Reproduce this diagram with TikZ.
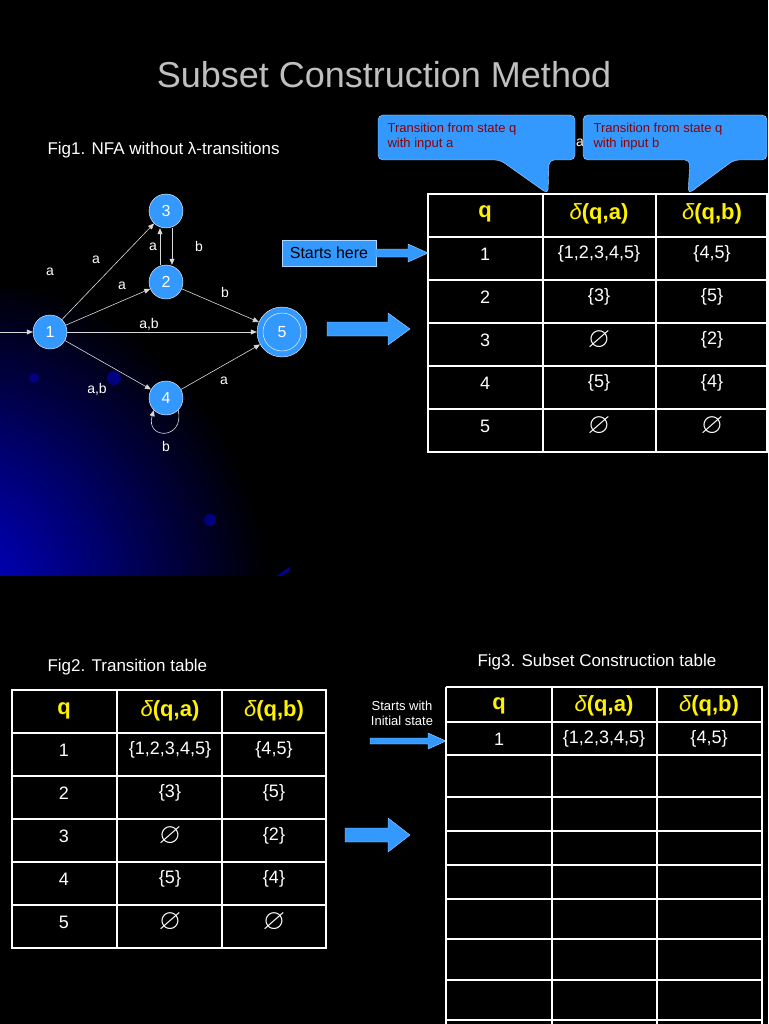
\documentclass[tikz,border=0pt]{standalone}
\usepackage{amssymb}
\usepackage{fontspec}
\setmainfont{Liberation Sans}
\usetikzlibrary{arrows.meta}
\newcommand{\emp}{\raisebox{-4pt}{\scalebox{1.6}{$\varnothing$}}}
\newcommand{\dl}{{\itshape\mdseries δ}}
\begin{document}
\begin{tikzpicture}[x=1pt,y=-1pt,
 st/.style={circle,fill=stb,draw=white,line width=0.4pt,minimum size=34pt,inner sep=0pt,text=white,font=\fontsize{16}{16}\selectfont},
 ed/.style={draw=white!85!black,line width=0.6pt,-{Triangle[length=6pt,width=5pt]}},
 el/.style={text=white,font=\fontsize{14}{14}\selectfont},
 cell/.style={text=white,font=\fontsize{18}{18}\selectfont},
 hd/.style={text=yellow,font=\fontsize{22}{22}\selectfont\bfseries},
 grid/.style={draw=white,line width=1.5pt},
 barrow/.style={fill=stb,draw=white!60!stb},
 call/.style={fill=stb,draw=white!60!stb,rounded corners=5pt},
 ctext/.style={text=red!55!black,font=\fontsize{13}{15}\selectfont,align=left,anchor=north west}]
\definecolor{stb}{RGB}{51,153,255}
\useasboundingbox (0,0) rectangle (768,1024);
\clip (0,0) rectangle (768,1024);
\fill[black] (0,0) rectangle (768,1024);
\begin{scope}
\clip (0,290) rectangle (290,575);
\shade[inner color=blue!85!black,outer color=black] (-60,600) circle (330);
\foreach \r in {330,345,420}{\draw[blue!60!black,line width=3pt] (520,920) circle (\r);}
\fill[blue!50!black] (34,378) circle (5);
\fill[blue!50!black] (114,378) circle (7);
\fill[blue!50!black] (210,520) circle (6);
\end{scope}
\node[text=white!75!black,font=\fontsize{36}{36}\selectfont] (title) at (384,75) {Subset Construction Method};
\node[text=white,font=\fontsize{17}{17}\selectfont,anchor=west] (f1) at (44,150) {Fig1. NFA without λ-transitions};
% NFA
\node[st] (n1) at (50,332) {1};
\node[st] (n2) at (166,282) {2};
\node[st] (n3) at (166,211) {3};
\node[st] (n4) at (166,398) {4};
\node[st,minimum size=50pt] (n5) at (282,332) {};
\node[circle,draw=white,minimum size=38pt,inner sep=0pt,text=white,font=\fontsize{16}{16}\selectfont] (n5i) at (282,332) {5};
\coordinate (s0) at (0,332);
\draw[ed] (s0) -- (n1);
\draw[ed] (n1) -- (n3);
\draw[ed] (n1) -- (n2);
\draw[ed] (n1) -- (n5);
\draw[ed] (n1) -- (n4);
\draw[ed] (n2) -- (n5);
\draw[ed] (n4) -- (n5);
\draw[ed] ([xshift=-6pt]n2.north) -- ([xshift=-6pt]n3.south);
\draw[ed] ([xshift=6pt]n3.south) -- ([xshift=6pt]n2.north);
\draw[ed] (n4.south east) .. controls (185,440) and (145,440) .. (n4.south west);
\node[el] (la1) at (50,272) {a};
\node[el] (la2) at (96,260) {a};
\node[el] (la3) at (122,286) {a};
\node[el] (la4) at (153,247) {a};
\node[el] (lb1) at (199,246) {b};
\node[el] (lb2) at (225,292) {b};
\node[el] (lab1) at (149,324) {a,b};
\node[el] (lab2) at (97,389) {a,b};
\node[el] (la5) at (224,381) {a};
\node[el] (lb3) at (166,446) {b};
% table 1
\draw[grid] (428,194) rectangle (767,452);
\foreach \y in {237,280,323,366,409}{\draw[grid] (428,\y) -- (767,\y);}
\foreach \x in {543,656}{\draw[grid] (\x,194) -- (\x,452);}
\node[hd] (h1) at (485,214) {q};
\node[hd] (h2) at (599,214) {\dl(q,a)};
\node[hd] (h3) at (712,214) {\dl(q,b)};
\foreach \q/\a/\b [count=\i] in {1/{\{1,2,3,4,5\}}/{\{4,5\}},2/{\{3\}}/{\{5\}},3/{\emp}/{\{2\}},4/{\{5\}}/{\{4\}},5/{\emp}/{\emp}}{
 \node[cell] (ta\i) at (485,{211+43*\i}) {\q};
 \node[cell] (tb\i) at (599,{211+43*\i}) {\a};
 \node[cell] (tc\i) at (712,{211+43*\i}) {\b};}
% callouts
\node[text=white,font=\fontsize{14}{14}\selectfont] (stray) at (580,143) {a};
\draw[call] (378,115) -- (575,115) -- (575,160) -- (549,160) -- (548,194) -- (500,160) -- (378,160) -- cycle;
\draw[call] (583,115) -- (767,115) -- (767,160) -- (734,160) -- (688,194) -- (690,160) -- (583,160) -- cycle;
\node[ctext] (c1) at (384,120) {Transition from state q\\with input a};
\node[ctext] (c2) at (590,120) {Transition from state q\\with input b};
% starts here
\node[fill=stb,draw=white!60!stb,minimum width=94pt,minimum height=26pt,inner sep=0pt,font=\fontsize{16}{16}\selectfont] (sh) at (329,253) {Starts here};
\draw[barrow] (376,249) -- (408,249) -- (408,244) -- (428,253) -- (408,262) -- (408,257) -- (376,257) -- cycle;
\draw[barrow] (327,322) -- (388,322) -- (388,313) -- (410,329) -- (388,345) -- (388,336) -- (327,336) -- cycle;
% fig2
\node[text=white,font=\fontsize{17}{17}\selectfont,anchor=west] (f2) at (44,667) {Fig2. Transition table};
\draw[grid] (12,690) rectangle (326,948);
\foreach \y in {733,776,819,862,905}{\draw[grid] (12,\y) -- (326,\y);}
\foreach \x in {117,222}{\draw[grid] (\x,690) -- (\x,948);}
\node[hd] (g1) at (64,711) {q};
\node[hd] (g2) at (170,711) {\dl(q,a)};
\node[hd] (g3) at (274,711) {\dl(q,b)};
\foreach \q/\a/\b [count=\i] in {1/{\{1,2,3,4,5\}}/{\{4,5\}},2/{\{3\}}/{\{5\}},3/{\emp}/{\{2\}},4/{\{5\}}/{\{4\}},5/{\emp}/{\emp}}{
 \node[cell] (ga\i) at (64,{707+43*\i}) {\q};
 \node[cell] (gb\i) at (170,{707+43*\i}) {\a};
 \node[cell] (gc\i) at (274,{707+43*\i}) {\b};}
\draw[barrow] (345,828) -- (388,828) -- (388,818) -- (410,835) -- (388,852) -- (388,842) -- (345,842) -- cycle;
% fig3
\node[text=white,font=\fontsize{17}{17}\selectfont,anchor=west] (f3) at (474,662) {Fig3. Subset Construction table};
\node[text=white,font=\fontsize{13}{15}\selectfont,align=center] (sw) at (402,713) {Starts with\\Initial state};
\draw[barrow] (370,738) -- (428,738) -- (428,733) -- (446,741) -- (428,749) -- (428,744) -- (370,744) -- cycle;
\draw[grid] (446,687) -- (762,687) -- (762,1030);
\draw[grid] (446,687) -- (446,1030);
\foreach \y in {722,755,797,831,865,899,939,980,1020}{\draw[grid] (446,\y) -- (762,\y);}
\foreach \x in {552,657}{\draw[grid] (\x,687) -- (\x,1030);}
\node[hd] (k1) at (499,706) {q};
\node[hd] (k2) at (604,706) {\dl(q,a)};
\node[hd] (k3) at (709,706) {\dl(q,b)};
\node[cell] (ka1) at (499,739) {1};
\node[cell] (kb1) at (604,739) {\{1,2,3,4,5\}};
\node[cell] (kc1) at (709,739) {\{4,5\}};
\end{tikzpicture}
\end{document}
